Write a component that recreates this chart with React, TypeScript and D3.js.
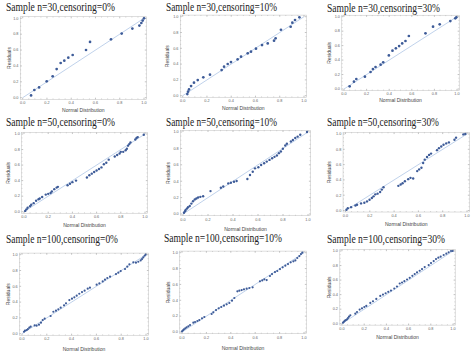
import React from "react";
import * as d3 from "d3";

type Pt = [number, number];

// Normal-distribution quantile (x) vs residual (y) pairs
const n30c0: Pt[] = [
  [0.069, 0.029], [0.096, 0.097], [0.135, 0.13], [0.198, 0.206], [0.247, 0.269],
  [0.28, 0.361], [0.313, 0.437], [0.343, 0.466], [0.376, 0.504], [0.412, 0.538],
  [0.522, 0.601], [0.555, 0.702], [0.728, 0.735], [0.816, 0.807], [0.904, 0.87],
  [0.962, 0.908], [0.978, 0.941], [0.989, 0.971], [1.0, 1.0],
];
const n30c10: Pt[] = [
  [0.038, 0.021], [0.044, 0.051], [0.052, 0.08], [0.069, 0.122], [0.093, 0.165],
  [0.124, 0.198], [0.17, 0.232], [0.225, 0.266], [0.321, 0.325], [0.341, 0.367],
  [0.371, 0.401], [0.398, 0.426], [0.453, 0.46], [0.481, 0.494], [0.536, 0.536],
  [0.563, 0.557], [0.604, 0.595], [0.654, 0.641], [0.701, 0.662], [0.753, 0.696],
  [0.766, 0.726], [0.81, 0.835], [0.89, 0.873], [0.904, 0.924], [0.926, 0.958],
  [0.962, 0.992],
];
const n30c30: Pt[] = [
  [0.05, 0.037], [0.088, 0.101], [0.109, 0.138], [0.185, 0.171], [0.235, 0.235],
  [0.256, 0.276], [0.279, 0.304], [0.324, 0.336], [0.347, 0.369], [0.397, 0.465],
  [0.429, 0.53], [0.459, 0.562], [0.488, 0.594], [0.515, 0.631], [0.544, 0.664],
  [0.574, 0.733], [0.721, 0.77], [0.788, 0.862], [0.847, 0.894], [0.941, 0.94],
  [0.985, 0.977], [0.994, 0.991],
];
const n50c0: Pt[] = [
  [0.01, 0.01], [0.02, 0.03], [0.03, 0.05], [0.05, 0.07], [0.06, 0.09],
  [0.08, 0.11], [0.1, 0.14], [0.12, 0.16], [0.13, 0.17], [0.15, 0.19],
  [0.18, 0.22], [0.2, 0.23], [0.22, 0.24], [0.23, 0.26], [0.25, 0.29],
  [0.27, 0.31], [0.28, 0.32], [0.36, 0.34], [0.38, 0.36], [0.4, 0.38],
  [0.43, 0.4], [0.52, 0.44], [0.54, 0.47], [0.56, 0.49], [0.58, 0.51],
  [0.6, 0.53], [0.62, 0.55], [0.64, 0.57], [0.66, 0.61], [0.68, 0.63],
  [0.7, 0.67], [0.75, 0.71], [0.77, 0.73], [0.79, 0.75], [0.8, 0.77],
  [0.82, 0.77], [0.84, 0.79], [0.85, 0.81], [0.86, 0.85], [0.87, 0.87],
  [0.88, 0.89], [0.92, 0.93], [0.93, 0.95], [0.94, 0.96], [0.99, 0.99],
];
const n50c10: Pt[] = [
  [0.008, 0.016], [0.016, 0.033], [0.021, 0.049], [0.032, 0.066], [0.04, 0.082],
  [0.054, 0.098], [0.067, 0.127], [0.08, 0.156], [0.094, 0.176], [0.107, 0.189],
  [0.121, 0.201], [0.139, 0.209], [0.161, 0.217], [0.22, 0.279], [0.303, 0.32],
  [0.322, 0.336], [0.362, 0.373], [0.383, 0.381], [0.408, 0.393], [0.429, 0.402],
  [0.515, 0.426], [0.536, 0.475], [0.558, 0.516], [0.576, 0.557], [0.603, 0.57],
  [0.625, 0.598], [0.649, 0.619], [0.67, 0.639], [0.692, 0.66], [0.713, 0.68],
  [0.732, 0.697], [0.751, 0.713], [0.767, 0.742], [0.783, 0.762], [0.799, 0.795],
  [0.818, 0.836], [0.831, 0.857], [0.863, 0.885], [0.879, 0.902], [0.898, 0.926],
  [0.917, 0.943], [0.938, 0.967], [0.992, 1.0],
];
const n50c30: Pt[] = [
  [0.008, 0.009], [0.019, 0.031], [0.046, 0.044], [0.082, 0.066], [0.095, 0.075],
  [0.128, 0.093], [0.155, 0.101], [0.177, 0.119], [0.198, 0.141], [0.217, 0.163],
  [0.231, 0.185], [0.245, 0.211], [0.264, 0.22], [0.285, 0.242], [0.299, 0.273],
  [0.313, 0.304], [0.435, 0.322], [0.454, 0.339], [0.47, 0.357], [0.489, 0.383],
  [0.516, 0.41], [0.535, 0.427], [0.557, 0.419], [0.59, 0.515], [0.606, 0.537],
  [0.625, 0.559], [0.639, 0.621], [0.652, 0.665], [0.671, 0.7], [0.688, 0.727],
  [0.704, 0.744], [0.753, 0.789], [0.769, 0.815], [0.788, 0.837], [0.807, 0.859],
  [0.829, 0.877], [0.851, 0.89], [0.897, 0.925], [0.91, 0.952], [0.97, 0.995],
  [0.986, 1.0],
];
const n100c0: Pt[] = [
  [0.016, 0.025], [0.024, 0.038], [0.038, 0.046], [0.048, 0.059], [0.059, 0.076],
  [0.07, 0.089], [0.102, 0.105], [0.118, 0.101], [0.137, 0.114], [0.153, 0.139],
  [0.167, 0.173], [0.183, 0.19], [0.231, 0.224], [0.253, 0.278], [0.274, 0.291],
  [0.293, 0.308], [0.312, 0.329], [0.339, 0.359], [0.355, 0.384], [0.382, 0.426],
  [0.403, 0.443], [0.422, 0.46], [0.441, 0.481], [0.462, 0.506], [0.484, 0.527],
  [0.505, 0.544], [0.53, 0.57], [0.548, 0.582], [0.602, 0.62], [0.624, 0.637],
  [0.651, 0.662], [0.669, 0.684], [0.688, 0.705], [0.71, 0.722], [0.758, 0.755],
  [0.777, 0.772], [0.796, 0.793], [0.831, 0.819], [0.849, 0.848], [0.866, 0.878],
  [0.898, 0.903], [0.919, 0.899], [0.938, 0.911], [0.957, 0.928], [0.968, 0.945],
  [0.978, 0.966], [0.989, 0.987], [0.997, 1.0],
];
const n100c10: Pt[] = [
  [0.0, 0.008], [0.008, 0.021], [0.016, 0.034], [0.027, 0.046], [0.038, 0.059],
  [0.052, 0.071], [0.066, 0.088], [0.093, 0.118], [0.107, 0.126], [0.126, 0.139],
  [0.142, 0.151], [0.164, 0.172], [0.183, 0.189], [0.243, 0.227], [0.257, 0.248],
  [0.279, 0.277], [0.301, 0.298], [0.322, 0.315], [0.344, 0.332], [0.366, 0.349],
  [0.388, 0.366], [0.41, 0.395], [0.429, 0.429], [0.454, 0.513], [0.47, 0.521],
  [0.489, 0.529], [0.508, 0.538], [0.53, 0.546], [0.552, 0.555], [0.579, 0.563],
  [0.639, 0.639], [0.658, 0.651], [0.675, 0.664], [0.694, 0.655], [0.721, 0.706],
  [0.738, 0.731], [0.762, 0.756], [0.781, 0.769], [0.803, 0.794], [0.825, 0.815],
  [0.847, 0.836], [0.869, 0.857], [0.891, 0.878], [0.913, 0.891], [0.929, 0.903],
  [0.945, 0.933], [0.962, 0.958], [0.975, 0.983], [0.986, 1.0],
];
const n100c30: Pt[] = [
  [0.009, 0.014], [0.018, 0.028], [0.027, 0.041], [0.036, 0.051], [0.045, 0.06],
  [0.054, 0.078], [0.063, 0.097], [0.075, 0.115], [0.12, 0.138], [0.135, 0.161],
  [0.159, 0.194], [0.18, 0.212], [0.201, 0.23], [0.219, 0.244], [0.255, 0.286],
  [0.279, 0.309], [0.309, 0.341], [0.345, 0.382], [0.369, 0.401], [0.393, 0.419],
  [0.417, 0.438], [0.441, 0.456], [0.471, 0.484], [0.495, 0.512], [0.52, 0.553],
  [0.541, 0.567], [0.562, 0.585], [0.586, 0.608], [0.61, 0.631], [0.634, 0.659],
  [0.655, 0.682], [0.676, 0.705], [0.7, 0.728], [0.721, 0.751], [0.745, 0.779],
  [0.781, 0.806], [0.802, 0.834], [0.826, 0.862], [0.847, 0.889], [0.868, 0.908],
  [0.889, 0.922], [0.916, 0.945], [0.94, 0.963], [0.961, 0.982], [0.982, 1.0],
  [0.997, 1.0],
];

const titles = [
  "Sample n=30,censoring=0%", "Sample n=30,censoring=10%", "Sample n=30,censoring=30%",
  "Sample n=50,censoring=0%", "Sample n=50,censoring=10%", "Sample n=50,censoring=30%",
  "Sample n=100,censoring=0%", "Sample n=100,censoring=10%", "Sample n=100,censoring=30%",
];
const series: Pt[][] = [n30c0, n30c10, n30c30, n50c0, n50c10, n50c30, n100c0, n100c10, n100c30];
const tickValues = [0, 0.2, 0.4, 0.6, 0.8, 1.0];
const xLabel = "Normal Distribution";
const yLabel = "Residuals";

// layout: pixel position of 0 and 1 on each axis, title box, label offsets
const layout = [
  { x0: 22.7, x1: 144, y0: 97.7, y1: 18.3, tx: 6, tw: 109, ty: 11, xl: 13, yl: 13.7, r: 1.35 },
  { x0: 182.7, x1: 304, y0: 95.7, y1: 16.7, tx: 166, tw: 111, ty: 11, xl: 12.5, yl: 15, r: 1.35 },
  { x0: 344, x1: 457, y0: 89, y1: 16.7, tx: 327, tw: 113, ty: 11.5, xl: 11.5, yl: 15, r: 1.35 },
  { x0: 24, x1: 145, y0: 211.7, y1: 134, tx: 6, tw: 109, ty: 125.5, xl: 13.5, yl: 16, r: 1.2 },
  { x0: 183, x1: 308, y0: 214, y1: 132, tx: 166, tw: 111, ty: 126, xl: 15, yl: 14.7, r: 1.2 },
  { x0: 345.5, x1: 467, y0: 210.5, y1: 134, tx: 327, tw: 112, ty: 125.5, xl: 13.5, yl: 16, r: 1.2 },
  { x0: 22, x1: 146, y0: 333.7, y1: 254.7, tx: 6, tw: 112, ty: 243, xl: 16, yl: 13.7, r: 1.1 },
  { x0: 182, x1: 304, y0: 332, y1: 252.7, tx: 164, tw: 118, ty: 242, xl: 16, yl: 13.7, r: 1.1 },
  { x0: 342, x1: 453, y0: 323.7, y1: 251, tx: 327, tw: 118, ty: 243, xl: 13.5, yl: 13, r: 1.1 },
];

const POINT = "#3d5b98";
const REF = "#b9cde9";
const FRAME = "#c8c8c8";
const TICKC = "#9a9a9a";
const TEXT = "#666";

function Panel({ i }: { i: number }) {
  const L = layout[i];
  const data = series[i];
  const x = d3.scaleLinear().domain([0, 1]).range([L.x0, L.x1]);
  const y = d3.scaleLinear().domain([0, 1]).range([L.y0, L.y1]);
  const fx0 = x(-0.02), fx1 = x(1.02), fy0 = y(-0.02), fy1 = y(1.02);
  const tl = 1.6;
  const minor = d3.range(0, 1.0001, 0.05).filter((v) => Math.abs(v * 5 - Math.round(v * 5)) > 1e-6);
  const line = d3.line<Pt>().x((d) => x(d[0])).y((d) => y(d[1]));
  return (
    <g>
      <text x={L.tx} y={L.ty} fontFamily="'Liberation Serif', 'Times New Roman', serif" fontSize={11.5}
        fill="#222" textLength={L.tw} lengthAdjust="spacingAndGlyphs">{titles[i]}</text>
      <rect x={fx0} y={fy1} width={fx1 - fx0} height={fy0 - fy1} fill="none" stroke={FRAME} strokeWidth={0.6} />
      {tickValues.map((t) => (
        <g key={"t" + t}>
          <line x1={x(t)} x2={x(t)} y1={fy0} y2={fy0 - tl} stroke={TICKC} strokeWidth={0.6} />
          <line x1={x(t)} x2={x(t)} y1={fy1} y2={fy1 + tl} stroke={TICKC} strokeWidth={0.6} />
          <line x1={fx0} x2={fx0 + tl} y1={y(t)} y2={y(t)} stroke={TICKC} strokeWidth={0.6} />
          <line x1={fx1} x2={fx1 - tl} y1={y(t)} y2={y(t)} stroke={TICKC} strokeWidth={0.6} />
          <text x={x(t)} y={fy0 + 5} fontSize={3.8} fontFamily="'Liberation Sans', Arial, sans-serif"
            fill={TEXT} textAnchor="middle">{t.toFixed(1)}</text>
          <text x={fx0 - 1.8} y={y(t) + 1.3} fontSize={3.8} fontFamily="'Liberation Sans', Arial, sans-serif"
            fill={TEXT} textAnchor="end">{t.toFixed(1)}</text>
        </g>
      ))}
      {minor.map((t) => (
        <g key={"m" + t}>
          <line x1={x(t)} x2={x(t)} y1={fy0} y2={fy0 - 0.9} stroke={TICKC} strokeWidth={0.4} />
          <line x1={x(t)} x2={x(t)} y1={fy1} y2={fy1 + 0.9} stroke={TICKC} strokeWidth={0.4} />
          <line x1={fx0} x2={fx0 + 0.9} y1={y(t)} y2={y(t)} stroke={TICKC} strokeWidth={0.4} />
          <line x1={fx1} x2={fx1 - 0.9} y1={y(t)} y2={y(t)} stroke={TICKC} strokeWidth={0.4} />
        </g>
      ))}
      <path d={line([[0, 0], [1, 1]]) || ""} stroke={REF} strokeWidth={0.9} fill="none" />
      {data.map((d, k) => (
        <circle key={k} cx={x(d[0])} cy={y(d[1])} r={L.r} fill={POINT} />
      ))}
      <text x={(L.x0 + L.x1) / 2} y={L.y0 + L.xl + 1.6} fontSize={5} fontFamily="'Liberation Sans', Arial, sans-serif"
        fill="#444" textAnchor="middle">{xLabel}</text>
      <text transform={`translate(${L.x0 - L.yl + 1.6},${(L.y0 + L.y1) / 2}) rotate(-90)`} fontSize={5}
        fontFamily="'Liberation Sans', Arial, sans-serif" fill="#444" textAnchor="middle">{yLabel}</text>
    </g>
  );
}

export default function App() {
  return (
    <svg width={474} height={356} viewBox="0 0 474 356"
      style={{ position: "absolute", left: 0, top: 0, background: "#fff" }}>
      <rect x={0} y={0} width={474} height={356} fill="#fff" />
      {titles.map((_, i) => <Panel key={i} i={i} />)}
    </svg>
  );
}
